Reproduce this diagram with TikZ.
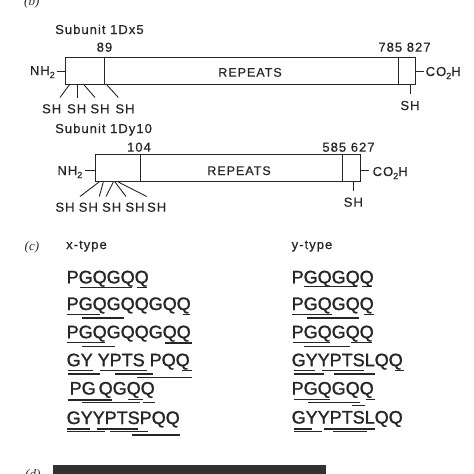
\documentclass[tikz,border=0pt]{standalone}
\usepackage{fontspec}
\setmainfont{Liberation Sans}
\newfontfamily\lab[LetterSpace=8,FakeBold=0.6]{Liberation Sans}
\newfontfamily\seqf[FakeBold=1.3]{Liberation Sans}
\newfontfamily\panf{Liberation Serif}
\newcommand\subtwo{\raisebox{-.45ex}{\fontsize{9pt}{9pt}\selectfont 2}}
\definecolor{ink}{HTML}{262626}
\tikzset{
  lbl/.style={inner sep=0pt, anchor=base, text=ink, font=\lab\fontsize{13pt}{13pt}\selectfont},
  rep/.style={inner sep=0pt, anchor=base, text=ink, font=\lab\fontsize{12.5pt}{12.5pt}\selectfont},
  seq/.style={inner sep=0pt, anchor=base west, text=ink, font=\seqf\fontsize{18pt}{18pt}\selectfont},
  pan/.style={inner sep=0pt, anchor=base west, text=ink, font=\panf\itshape\fontsize{13pt}{13pt}\selectfont},
  boxl/.style={draw=ink, line width=0.9pt},
  tick/.style={draw=ink, line width=0.9pt},
  ul/.style={draw=ink, line width=1.1pt}
}
\begin{document}
\begin{tikzpicture}[x=1pt,y=-1pt]
\useasboundingbox (0,0) rectangle (474,474);
% panel b
\node[pan] (pb) at (24,5.5) {(b)};
% Subunit 1Dx5
\node[lbl, anchor=base west] (s1) at (55,34) {Subunit 1Dx5};
\node[lbl] (n89) at (104.5,51.7) {89};
\node[lbl] (n785) at (404.5,51.7) {785 827};
\draw[boxl] (65.5,57) rectangle (415,84);
\coordinate (b1a) at (65.5,71); \coordinate (b1b) at (415,71);
\draw[boxl] (104.5,57) -- (104.5,84);
\draw[boxl] (398,57) -- (398,84);
\node[rep] (r1) at (250,76.7) {REPEATS};
\node[lbl, anchor=base east] (nh1) at (55,75) {NH\subtwo};
\node[lbl, anchor=base west] (co1) at (425.5,76) {CO\subtwo H};
\draw[tick] (nh1.east |- b1a) ++(1.5,0) -- (b1a);
\draw[tick] (b1b) -- ++(8.5,0);
\foreach \x/\t [count=\i] in {51.7/SH,76.7/SH,100/SH,125/SH}{
  \node[lbl] (sha\i) at (\x,113.3) {\t};
}
\coordinate (t1) at (70,84); \coordinate (e1) at (60,97.5);
\coordinate (t2) at (77,84); \coordinate (e2) at (77,97.5);
\coordinate (t3) at (83.3,84); \coordinate (e3) at (95,97.5);
\coordinate (t4) at (106,84); \coordinate (e4) at (118.3,97.5);
\foreach \i in {1,...,4}{\draw[tick] (t\i) -- (e\i);}
\node[lbl] (shr1) at (410,110) {SH};
\draw[tick] (410,84) -- (410,93.5);
% Subunit 1Dy10
\node[lbl, anchor=base west] (s2) at (55,133) {Subunit 1Dy10};
\node[lbl] (n104) at (139,151.7) {104};
\node[lbl] (n585) at (348.5,151.7) {585 627};
\draw[boxl] (95,154.3) rectangle (360,181.7);
\coordinate (b2a) at (95,170); \coordinate (b2b) at (360,170);
\draw[boxl] (140,154.3) -- (140,181.7);
\draw[boxl] (342.3,154.3) -- (342.3,181.7);
\node[rep] (r2) at (239,175) {REPEATS};
\node[lbl, anchor=base east] (nh2) at (82.5,175) {NH\subtwo};
\node[lbl, anchor=base west] (co2) at (372.5,176) {CO\subtwo H};
\draw[tick] (85,170) -- (b2a);
\draw[tick] (b2b) -- ++(8.5,0);
\foreach \x [count=\i] in {65,88.3,111.7,135,156.7}{
  \node[lbl] (shb\i) at (\x,211.7) {SH};
}
\coordinate (u1) at (99,182); \coordinate (v1) at (80,196.5);
\coordinate (u2) at (103.3,182); \coordinate (v2) at (99.3,196.5);
\coordinate (u3) at (113.3,182); \coordinate (v3) at (106,196.5);
\coordinate (u4) at (115,182); \coordinate (v4) at (126,196.5);
\coordinate (u5) at (118.3,182); \coordinate (v5) at (146.7,196.5);
\foreach \i in {1,...,5}{\draw[tick] (u\i) -- (v\i);}
\node[lbl] (shr2) at (353.3,206.7) {SH};
\draw[tick] (353.3,181.7) -- (353.3,190.5);
% panel c
\node[pan] (pc) at (24.5,250.5) {(c)};
\node[lbl, anchor=base west] (xt) at (66,249) {x-type};
\node[lbl, anchor=base west] (yt) at (291.5,249) {y-type};
% x-type sequences
\node[seq] (x1) at (66.5,283.3) {PGQGQQ};
\node[seq] (x2) at (66.5,310) {PGQGQQGQQ};
\node[seq] (x3) at (66.5,338.2) {PGQGQQGQQ};
\node[seq] (x4) at (66.5,366.2) {GY YPTS PQQ};
\node[seq] (x5) at (69.5,394.5) {PG\hspace{-2pt} QGQQ};
\node[seq] (x6) at (66.5,424) {GYYPTSPQQ};
% y-type sequences
\node[seq] (y1) at (291.5,283.3) {PGQGQQ};
\node[seq] (y2) at (291.5,310) {PGQGQQ};
\node[seq] (y3) at (291.5,338.2) {PGQGQQ};
\node[seq] (y4) at (291.5,366.2) {GYYPTSLQQ};
\node[seq] (y5) at (291.5,394.5) {PGQGQQ};
\node[seq] (y6) at (291.5,423.5) {GYYPTSLQQ};
% underlines x-type
\foreach \a/\b/\y in {
  80/131.7/287.5, 136.7/147.3/287.5,
  67/100/314.5, 82/124/318, 183/190/314.5,
  67/105/342.3, 82/115/346.5, 165/192/343,
  68/93/370.7, 68/100/374, 100/146.7/370.7, 115/153/374, 136.7/191.7/377.3, 181.7/191.7/370.7,
  68/111.7/400, 81.7/140/402.7, 128/143/399.5, 143/155/402.7,
  66.7/90/429, 66.7/105/431.7, 96.7/138.3/429, 110/148/431.7, 131.7/180/435}{
  \draw[ul] (\a,\y) -- (\b,\y);
}
% underlines y-type
\foreach \a/\b/\y in {
  304.3/356.7/286.7, 362.3/372.3/286.7,
  292/332/314.5, 307/358.5/318, 364/373.5/314.5,
  293/330/342.5, 304/350/346.7, 351/372/342.5,
  293.7/315.3/370.7, 293.7/323.7/374, 322/363.7/370.7, 333.7/375.3/374, 395.3/403.7/370.7,
  293.5/330/399.5, 308/360/402.5, 351.7/365/405.5, 366/375/399.5,
  293.7/312/429, 293.7/322/431.7, 323.7/375.3/429, 333/366.7/431.7}{
  \draw[ul] (\a,\y) -- (\b,\y);
}
% panel d
\node[pan] (pd) at (25,478) {(d)};
\fill[ink!95] (53,465) rectangle (326,480);
\end{tikzpicture}
\end{document}
